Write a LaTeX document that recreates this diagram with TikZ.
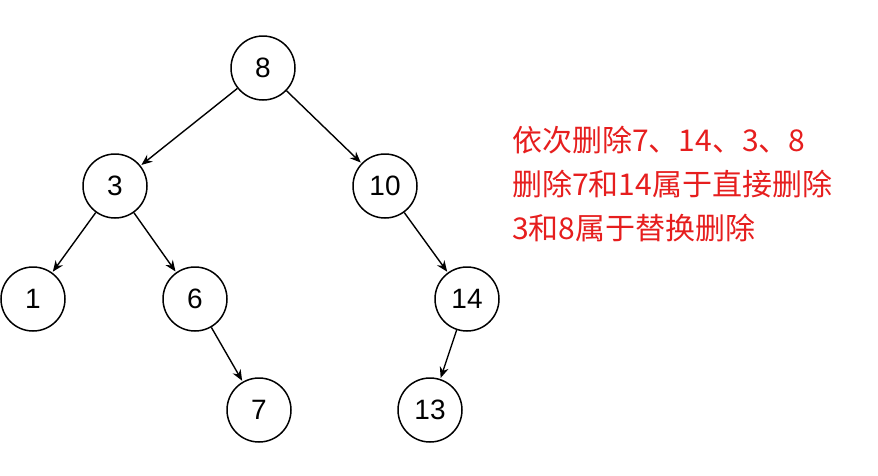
\documentclass[tikz,border=0pt]{standalone}
\usepackage{fontspec}
\setmainfont{Liberation Sans}
\newfontfamily\cjk{Noto Sans CJK SC}
\usetikzlibrary{arrows.meta}
\definecolor{txtred}{RGB}{230,30,30}
\begin{document}
\begin{tikzpicture}[x=1pt,y=-1pt,
  tn/.style={circle,draw,line width=1.5pt,minimum size=64pt,inner sep=0pt,font=\fontsize{28}{32}\selectfont},
  ar/.style={-{Stealth[length=11pt,width=9pt]},line width=1.4pt,shorten >=1pt}]
\useasboundingbox (0,0) rectangle (878,475);
\node[tn] (n8) at (263,68) {8};
\node[tn] (n3) at (115,186) {3};
\node[tn] (n10) at (385,186) {10};
\node[tn] (n1) at (33,299) {1};
\node[tn] (n6) at (195,299) {6};
\node[tn] (n14) at (467,299) {14};
\node[tn] (n7) at (259,410) {7};
\node[tn] (n13) at (430,410) {13};
\draw[ar] (n8) -- (n3);
\draw[ar] (n8) -- (n10);
\draw[ar] (n3) -- (n1);
\draw[ar] (n3) -- (n6);
\draw[ar] (n6) -- (n7);
\draw[ar] (n10) -- (n14);
\draw[ar] (n14) -- (n13);
\node[anchor=west,align=left,text=txtred,font=\cjk\fontsize{30}{44}\selectfont,inner sep=0pt] (t) at (512,184)
{依次删除7、14、3、8\\删除7和14属于直接删除\\3和8属于替换删除};
\end{tikzpicture}
\end{document}
